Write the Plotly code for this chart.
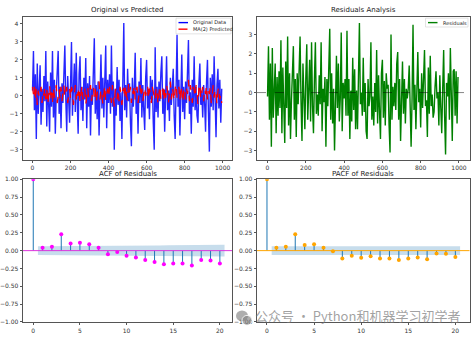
import plotly.graph_objects as go

# ---------------- data ----------------
time_idx = list(range(0, 1000, 5))

original = [
    0.3, 2.5, -0.8, 1.2, -2.4, 1.8, -1.0, 0.6, 1.7, -1.6,
    0.4, -0.9, 1.1, -0.3, 2.5, -1.7, 0.8, -0.5, -2.0, 1.3,
    -0.6, 2.5, -1.2, 0.9, -2.1, 0.2, 1.4, 2.5, -1.0, 0.5,
    -1.8, 0.7, -0.4, 1.6, 2.8, -0.2, -2.0, 1.1, -0.7, -1.5,
    0.6, 3.0, -1.1, 0.4, 1.8, -0.9, 2.4, -0.3, -2.1, 1.2,
    2.2, -0.8, 0.5, -1.4, 1.0, -0.2, 2.1, -1.8, 0.7, -0.6,
    1.1, -2.2, 0.4, -0.5, 1.5, 3.2, -1.0, 0.6, -1.3, 0.8,
    -2.2, 0.5, 2.3, -0.7, 1.0, -1.2, 0.3, 2.8, -1.8, 0.9,
    -0.4, 1.2, -1.0, 2.8, -0.6, 0.8, -3.0, 0.4, -1.1, 1.6,
    -0.5, 0.9, -1.4, 0.2, -2.4, 1.1, 4.05, -0.8, 0.6, -1.2,
    1.5, -0.3, 0.7, -1.5, -2.8, 1.0, -0.6, 0.4, 2.4, -1.0,
    0.3, -2.1, 0.8, -0.4, 2.1, -1.2, 0.6, -0.8, -1.9, 1.0,
    2.0, -0.7, 0.4, -1.3, 1.1, -0.2, 0.9, -1.5, -3.0, 2.7,
    -0.9, 0.5, -1.2, 0.8, -0.3, 1.3, 2.2, -1.0, 0.4, -2.0,
    0.6, 2.2, -0.8, 0.3, -1.4, 1.0, -0.5, 0.7, 1.5, -1.1,
    -2.4, 0.4, 3.4, -0.6, 0.9, -2.2, 1.2, 2.3, -0.9, 0.5,
    -1.3, 0.8, -0.4, 1.6, 3.1, -1.0, 0.2, -2.1, 0.9, -0.6,
    2.2, -0.8, 0.5, -1.1, -1.5, 0.7, 1.8, -0.5, 0.3, -1.2,
    0.6, -0.4, -2.0, 0.8, 2.0, -0.9, -3.1, 1.0, -0.6, 1.2,
    -0.8, 2.2, -0.5, -2.3, 0.6, 1.5, -0.7, 0.9, -1.5, 0.4,
]

predicted = [
    0.5, 0.1, 0.6, -0.3, 0.4, -0.5, 0.3, -0.1, 0.2, 0.5,
    -0.4, 0.3, 0.0, 0.5, -0.2, 0.4, -0.5, 0.2, 0.6, -0.3,
    0.2, -0.4, 0.5, -0.1, 0.3, 0.6, -0.4, 0.1, 0.4, -0.2,
    0.5, -0.3, 0.2, 0.6, -0.1, 0.3, 0.5, -0.4, 0.2, 0.4,
    -0.2, 0.5, 0.3, -0.5, 0.1, 0.6, -0.2, 0.4, 0.0, 0.5,
    -0.4, 0.3, 0.6, -0.2, 0.1, 0.4, -0.5, 0.2, 0.5, -0.1,
    0.3, 0.6, -0.3, 0.2, 0.5, -0.1, 0.4, -0.4, 0.3, 0.6,
    0.8, -0.2, 0.4, 0.1, -0.5, 0.3, 0.6, -0.3, 0.2, 0.4,
    -0.1, 0.5, 0.2, -0.4, 0.6, 0.1, -0.6, 0.3, 0.4, -0.2,
    0.4, -0.3, 0.5, 0.1, -0.5, 0.3, 0.45, -0.2, 0.6, 0.0,
    -0.3, 0.7, 0.2, 0.5, -0.4, 0.3, 0.1, 0.6, -0.2, 0.4,
    0.5, -0.4, 0.3, 0.6, -0.1, 0.4, -0.3, 0.2, 0.5, 0.0,
    0.3, 0.6, -0.2, 0.4, 0.1, -0.4, 0.5, 0.2, 0.1, -0.3,
    0.5, 0.2, -0.5, 0.3, 0.6, -0.2, 0.1, 0.4, -0.3, 0.5,
    -0.1, 0.6, 0.3, -0.4, 0.2, 0.8, -0.2, 0.5, 0.1, -0.3,
    0.4, 0.7, -0.1, 0.3, 0.5, -0.3, 0.6, 0.2, -0.4, 0.3,
    0.5, -0.2, 0.4, 0.1, 0.9, -0.3, 0.6, 0.2, -0.4, 0.5,
    0.3, -0.1, 0.6, 0.2, -0.5, 0.4, 0.7, -0.2, 0.3, 0.5,
    -0.3, 0.4, 0.1, 0.6, -0.2, 0.3, 0.1, 0.5, -0.4, 0.2,
    0.6, -0.1, 0.4, 0.2, -0.5, 0.3, 0.5, -0.2, 0.1, -0.4,
]

residuals = [o - p for o, p in zip(original, predicted)]

lags = list(range(0, 21))
acf_vals = [1.0, 0.04, 0.055, 0.23, 0.10, 0.11, 0.09, 0.04, -0.05, -0.02,
            -0.07, -0.095, -0.13, -0.16, -0.19, -0.18, -0.18, -0.21, -0.13, -0.14, -0.18]
pacf_vals = [1.0, 0.04, 0.055, 0.23, 0.08, 0.09, 0.04, -0.01, -0.11, -0.07,
             -0.10, -0.08, -0.11, -0.11, -0.13, -0.11, -0.095, -0.12, -0.04, -0.045, -0.09]
band_lags = [0.5] + [k + 0.5 for k in range(1, 21)]
acf_conf = [0.062, 0.062, 0.063, 0.063, 0.066, 0.067, 0.068, 0.069, 0.069, 0.069, 0.069,
            0.070, 0.071, 0.072, 0.074, 0.076, 0.078, 0.080, 0.081, 0.082, 0.083]
pacf_conf = [0.062] * 21

W, H = 474, 338
def px_x(a, b):
    return [a / W, b / W]
def px_y(top, bottom):
    return [1 - bottom / H, 1 - top / H]
def X(p):
    return p / W
def Y(p):
    return 1 - p / H

dom_x1 = px_x(23, 232)
dom_x2 = px_x(257, 469.5)
dom_y1 = px_y(13, 159)
dom_y2 = px_y(179, 324.7)

fig = go.Figure()

# --- Top-left ---
fig.add_trace(go.Scatter(x=time_idx, y=original, mode="lines", name="Original Data",
                         line=dict(color="rgba(0,0,255,0.85)", width=1.4), xaxis="x", yaxis="y",
                         showlegend=False))
fig.add_trace(go.Scatter(x=time_idx, y=predicted, mode="lines", name="MA(2) Predicted",
                         line=dict(color="#ff0000", width=1.3, dash="dash"), xaxis="x", yaxis="y",
                         showlegend=False))

# --- Top-right ---
fig.add_trace(go.Scatter(x=time_idx, y=residuals, mode="lines", name="Residuals",
                         line=dict(color="#008000", width=1.4), xaxis="x2", yaxis="y2",
                         showlegend=False))

def stem_xy(xs, ys):
    sx, sy = [], []
    for a, b in zip(xs, ys):
        sx += [a, a, None]
        sy += [0, b, None]
    return sx, sy

def add_corr(vals, conf, xa, ya, mcolor):
    up = [c for c in conf]
    lo = [-c for c in conf]
    fig.add_trace(go.Scatter(x=band_lags + band_lags[::-1], y=up + lo[::-1], fill="toself",
                             fillcolor="rgba(31,119,180,0.25)", line=dict(width=0),
                             mode="lines", showlegend=False, hoverinfo="skip",
                             xaxis=xa, yaxis=ya))
    sx, sy = stem_xy(lags, vals)
    fig.add_trace(go.Scatter(x=sx, y=sy, mode="lines", line=dict(color="#1f77b4", width=1),
                             showlegend=False, xaxis=xa, yaxis=ya))
    fig.add_trace(go.Scatter(x=lags, y=vals, mode="markers",
                             marker=dict(color=mcolor, size=4), showlegend=False,
                             xaxis=xa, yaxis=ya))

add_corr(acf_vals, acf_conf, "x3", "y3", "#ff00ff")
add_corr(pacf_vals, pacf_conf, "x4", "y4", "#ffa500")

tickfont = dict(size=6, color="#333", family="DejaVu Sans")
axis_common = dict(showgrid=False, zeroline=False, showline=True, mirror=True,
                   linecolor="#555", linewidth=0.8, ticks="outside", ticklen=2.5,
                   tickcolor="#555", tickfont=tickfont)

fig.update_layout(
    width=W, height=H, margin=dict(l=0, r=0, t=0, b=0),
    paper_bgcolor="white", plot_bgcolor="white", showlegend=False,
    xaxis=dict(domain=dom_x1, anchor="y", range=[-50, 1049], tickvals=[0, 200, 400, 600, 800, 1000], **axis_common),
    yaxis=dict(domain=dom_y1, anchor="x", range=[-3.55, 4.4], tickvals=[-3, -2, -1, 0, 1, 2, 3, 4], **axis_common),
    xaxis2=dict(domain=dom_x2, anchor="y2", range=[-55, 1055], tickvals=[0, 200, 400, 600, 800, 1000], **axis_common),
    yaxis2=dict(domain=dom_y1, anchor="x2", range=[-3.47, 3.92], tickvals=[-3, -2, -1, 0, 1, 2, 3], **axis_common),
    xaxis3=dict(domain=dom_x1, anchor="y3", range=[-1.1, 21.3], tickvals=[0, 5, 10, 15, 20], **axis_common),
    yaxis3=dict(domain=dom_y2, anchor="x3", range=[-1, 1], tickvals=[-1, -0.75, -0.5, -0.25, 0, 0.25, 0.5, 0.75, 1],
                tickformat=".2f", **axis_common),
    xaxis4=dict(domain=dom_x2, anchor="y4", range=[-1.06, 21.5], tickvals=[0, 5, 10, 15, 20], **axis_common),
    yaxis4=dict(domain=dom_y2, anchor="x4", range=[-1, 1], tickvals=[-1, -0.75, -0.5, -0.25, 0, 0.25, 0.5, 0.75, 1],
                tickformat=".2f", **axis_common),
)

title_font = dict(size=7, color="#222", family="DejaVu Sans")
titles = [("Original vs Predicted", dom_x1, 6.5), ("Residuals Analysis", dom_x2, 6.5),
          ("ACF of Residuals", dom_x1, 173.5), ("PACF of Residuals", dom_x2, 173.5)]
for t, dx, ypx in titles:
    fig.add_annotation(text=t, x=(dx[0] + dx[1]) / 2, y=Y(ypx), xref="paper", yref="paper",
                       xanchor="center", yanchor="middle", showarrow=False, font=title_font)

# reference lines
fig.add_shape(type="line", xref="x2 domain", yref="y2", x0=0, x1=1, y0=0, y1=0,
              line=dict(color="rgba(0,0,0,0.6)", width=0.8, dash="dash"))
fig.add_shape(type="line", xref="x3 domain", yref="y3", x0=0, x1=1, y0=0, y1=0,
              line=dict(color="#dd33dd", width=1))
fig.add_shape(type="line", xref="x4 domain", yref="y4", x0=0, x1=1, y0=0, y1=0,
              line=dict(color="#ffa500", width=1))

# compact legends (matplotlib style)
leg_font = dict(size=5, color="#222", family="DejaVu Sans")
def legend_box(x0, x1, y0, y1, items):
    fig.add_shape(type="rect", xref="paper", yref="paper", x0=X(x0), x1=X(x1), y0=Y(y1), y1=Y(y0),
                  fillcolor="rgba(255,255,255,0.85)", line=dict(color="#d0d0d0", width=0.6))
    for (ypx, color, dash, label) in items:
        fig.add_shape(type="line", xref="paper", yref="paper", x0=X(x0 + 2.5), x1=X(x0 + 12),
                      y0=Y(ypx), y1=Y(ypx), line=dict(color=color, width=1.4, dash=dash))
        fig.add_annotation(text=label, x=X(x0 + 15), y=Y(ypx), xref="paper", yref="paper",
                           xanchor="left", yanchor="middle", showarrow=False, font=leg_font)

legend_box(176, 231, 14.5, 30.5, [(19, "#0000ff", "solid", "Original Data"),
                                  (25.7, "#ff0000", "dash", "MA(2) Predicted")])
legend_box(425.5, 468, 14.5, 23.5, [(19, "#008000", "solid", "Residuals")])

# watermark
fig.add_annotation(text="公众号 · Python和机器学习初学者", x=X(357), y=Y(318),
                   xref="paper", yref="paper", xanchor="center", yanchor="middle",
                   showarrow=False, font=dict(size=13, color="rgba(120,120,120,0.7)",
                                              family="Noto Sans CJK SC"))
fig.add_shape(type="circle", xref="paper", yref="paper", x0=X(236), x1=X(248),
              y0=Y(324), y1=Y(313), fillcolor="rgba(130,130,130,0.65)", line=dict(width=0))
fig.add_shape(type="circle", xref="paper", yref="paper", x0=X(242), x1=X(252),
              y0=Y(328), y1=Y(318), fillcolor="rgba(130,130,130,0.65)",
              line=dict(color="white", width=0.8))

fig.write_html("out.html")
